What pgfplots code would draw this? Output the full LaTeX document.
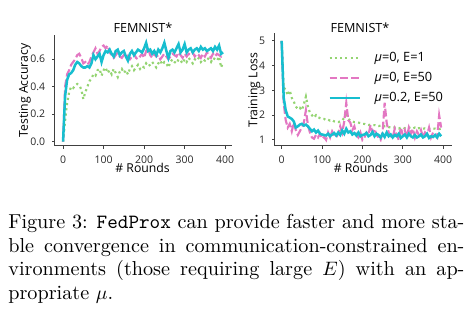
\documentclass[border=0pt]{standalone}
\usepackage{fontspec}
\usepackage{pgfplots}
\pgfplotsset{compat=1.18}
\newfontfamily\plotfont{Open Sans}
\definecolor{ccyan}{HTML}{17BECF}
\definecolor{cpink}{HTML}{E377C2}
\definecolor{cgreen}{HTML}{94D472}
\pgfplotsset{
  every axis title shift=0pt,
  mystyle/.style={
    scale only axis,
    axis x line*=bottom, axis y line*=left,
    axis line style={black!75, line width=0.5pt},
    tick style={black!75, line width=0.5pt},
    tick align=outside, major tick length=1.5pt,
    xtick={0,100,200,300,400},
    tick label style={font=\plotfont\fontsize{5.4}{6}\selectfont, black!85},
    /pgf/number format/assume math mode=true,
    label style={font=\plotfont\fontsize{6.3}{7}\selectfont},
    title style={font=\plotfont\fontsize{6.5}{7}\selectfont, anchor=center},
    xlabel={\# Rounds},
  },
  greenline/.style={cgreen, line width=1.1pt, dash pattern=on 1.1pt off 1.6pt},
  pinkline/.style={cpink, line width=1.1pt, dash pattern=on 4pt off 1.6pt},
  cyanline/.style={ccyan, line width=1.3pt},
}
\begin{document}
\begin{tikzpicture}
\useasboundingbox (0,0) rectangle (244.1pt,-168.4pt);
% ---------------- left: accuracy
\begin{axis}[mystyle,
  at={(28.3pt,-75.0pt)}, anchor=south west,
  width=91.2pt, height=57.0pt,
  xmin=-20, xmax=417, ymin=-0.029, ymax=0.777,
  ytick={0,0.2,0.4,0.6},
  yticklabel style={/pgf/number format/.cd, fixed, fixed zerofill, precision=1},
  title={FEMNIST*},
  title style={at={(axis description cs:0.497,1.066)}},
  ylabel={Testing Accuracy},
  ylabel style={at={(axis description cs:-0.170,0.499)}, anchor=center},
  xlabel style={at={(axis description cs:0.495,-0.201)}, anchor=center},
]
\addplot[greenline] coordinates {
(0,0.00)(5,0.15)(10,0.28)(15,0.36)(20,0.40)(25,0.39)(30,0.41)(35,0.42)(40,0.41)(45,0.38)
(50,0.31)(55,0.36)(60,0.40)(65,0.44)(70,0.46)(75,0.49)(80,0.48)(85,0.52)(90,0.53)(95,0.48)
(100,0.52)(105,0.54)(110,0.50)(115,0.52)(120,0.49)(125,0.53)(130,0.50)(135,0.47)(140,0.51)(145,0.53)
(150,0.50)(155,0.52)(160,0.49)(165,0.53)(170,0.55)(175,0.52)(180,0.54)(185,0.56)(190,0.53)(195,0.55)
(200,0.54)(205,0.57)(210,0.55)(215,0.56)(220,0.58)(225,0.56)(230,0.54)(235,0.57)(240,0.59)(245,0.56)
(250,0.58)(255,0.57)(260,0.54)(265,0.58)(270,0.60)(275,0.58)(280,0.57)(285,0.60)(290,0.59)(295,0.57)
(300,0.60)(305,0.58)(310,0.61)(315,0.59)(320,0.57)(325,0.60)(330,0.59)(335,0.61)(340,0.58)(345,0.60)
(350,0.59)(355,0.61)(360,0.60)(365,0.58)(370,0.61)(375,0.60)(380,0.59)(385,0.62)(390,0.54)(395,0.58)};
\addplot[pinkline] coordinates {
(0,0.00)(5,0.40)(10,0.49)(15,0.52)(20,0.56)(25,0.58)(30,0.60)(35,0.63)(40,0.64)(45,0.61)
(50,0.57)(55,0.58)(60,0.56)(65,0.58)(70,0.62)(75,0.65)(80,0.68)(85,0.64)(90,0.66)(95,0.69)
(100,0.70)(105,0.68)(110,0.70)(115,0.65)(120,0.63)(125,0.61)(130,0.63)(135,0.65)(140,0.62)(145,0.61)
(150,0.63)(155,0.64)(160,0.62)(165,0.60)(170,0.62)(175,0.64)(180,0.61)(185,0.60)(190,0.62)(195,0.64)
(200,0.61)(205,0.66)(210,0.68)(215,0.63)(220,0.61)(225,0.64)(230,0.62)(235,0.63)(240,0.60)(245,0.62)
(250,0.64)(255,0.62)(260,0.60)(265,0.62)(270,0.64)(275,0.63)(280,0.62)(285,0.65)(290,0.63)(295,0.61)
(300,0.64)(305,0.62)(310,0.64)(315,0.63)(320,0.65)(325,0.62)(330,0.64)(335,0.63)(340,0.61)(345,0.64)
(350,0.62)(355,0.65)(360,0.63)(365,0.61)(370,0.64)(375,0.62)(380,0.64)(385,0.63)(390,0.62)(395,0.64)};
\addplot[cyanline] coordinates {
(0,0.00)(5,0.33)(10,0.45)(15,0.49)(20,0.50)(25,0.52)(30,0.56)(35,0.58)(40,0.57)(45,0.55)
(50,0.54)(55,0.54)(60,0.55)(65,0.54)(70,0.57)(75,0.63)(80,0.60)(85,0.62)(90,0.64)(95,0.58)
(100,0.63)(105,0.66)(110,0.65)(115,0.67)(120,0.64)(125,0.62)(130,0.66)(135,0.67)(140,0.63)(145,0.65)
(150,0.66)(155,0.62)(160,0.59)(165,0.64)(170,0.66)(175,0.63)(180,0.65)(185,0.67)(190,0.66)(195,0.65)
(200,0.68)(205,0.72)(210,0.66)(215,0.67)(220,0.64)(225,0.66)(230,0.63)(235,0.67)(240,0.65)(245,0.68)
(250,0.72)(255,0.66)(260,0.61)(265,0.66)(270,0.67)(275,0.65)(280,0.68)(285,0.71)(290,0.65)(295,0.67)
(300,0.71)(305,0.65)(310,0.67)(315,0.68)(320,0.65)(325,0.67)(330,0.68)(335,0.66)(340,0.69)(345,0.67)
(350,0.68)(355,0.66)(360,0.67)(365,0.68)(370,0.66)(375,0.69)(380,0.67)(385,0.70)(390,0.64)(395,0.65)};
\end{axis}
% ---------------- right: loss
\begin{axis}[mystyle,
  at={(141.6pt,-75.0pt)}, anchor=south west,
  width=91.0pt, height=58.0pt,
  xmin=-16.6, xmax=421, ymin=0.77, ymax=5.32,
  ytick={1,2,3,4,5},
  title={FEMNIST*},
  title style={at={(axis description cs:0.481,1.047)}},
  ylabel={Training Loss},
  ylabel style={at={(axis description cs:-0.116,0.494)}, anchor=center},
  xlabel style={at={(axis description cs:0.487,-0.198)}, anchor=center},
  legend style={draw=none, fill=none, at={(axis description cs:0.30,0.868)}, anchor=north west,
    font=\plotfont\fontsize{6.6}{7.5}\selectfont, row sep=0pt, inner sep=0pt,
    /tikz/every odd column/.append style={column sep=5pt}},
  legend cell align=left,
  legend image code/.code={\draw[#1] (0pt,0pt) -- (15.5pt,0pt);},
]
\addplot[greenline] coordinates {
(0,5.0)(5,3.1)(10,3.05)(15,2.8)(20,3.0)(25,2.7)(30,2.55)(35,2.35)(40,2.25)(45,2.3)
(50,2.2)(55,2.45)(60,2.75)(65,2.35)(70,2.1)(75,2.0)(80,1.9)(85,2.0)(90,1.92)(95,1.88)
(100,1.85)(105,1.85)(110,1.8)(115,1.82)(120,1.78)(125,1.8)(130,1.75)(135,1.74)(140,1.72)(145,1.75)
(150,1.78)(155,1.9)(160,2.0)(165,1.85)(170,1.78)(175,1.75)(180,1.72)(185,1.72)(190,1.7)(195,1.68)
(200,1.65)(205,1.65)(210,1.62)(215,1.6)(220,1.62)(225,1.6)(230,1.6)(235,1.58)(240,1.56)(245,1.58)
(250,1.6)(255,1.55)(260,1.55)(265,1.52)(270,1.5)(275,1.5)(280,1.5)(285,1.48)(290,1.46)(295,1.5)
(300,1.5)(305,1.47)(310,1.45)(315,1.5)(320,1.48)(325,1.46)(330,1.5)(335,1.45)(340,1.48)(345,1.46)
(350,1.45)(355,1.47)(360,1.45)(365,1.46)(370,1.44)(375,1.45)(380,1.46)(385,1.45)(390,1.44)(395,1.45)};
\addlegendentry{\textit{μ}=0, E=1}
\addplot[pinkline] coordinates {
(0,5.0)(5,2.5)(10,1.8)(15,1.5)(20,1.65)(25,1.35)(30,1.7)(35,1.4)(40,1.2)(45,1.35)
(50,1.5)(55,1.7)(60,2.2)(65,1.6)(70,1.3)(75,1.1)(80,1.05)(85,1.2)(90,1.1)(95,1.25)
(100,1.05)(105,1.12)(110,1.0)(115,1.3)(120,1.1)(125,1.35)(130,1.2)(135,1.1)(140,1.25)(145,1.55)
(150,1.3)(155,1.75)(160,2.5)(165,1.8)(170,1.7)(175,1.4)(180,1.55)(185,1.2)(190,1.1)(195,1.3)
(200,1.0)(205,1.1)(210,1.3)(215,1.2)(220,1.6)(225,1.3)(230,1.45)(235,1.2)(240,1.1)(245,1.0)
(250,1.3)(255,2.5)(260,1.7)(265,1.3)(270,1.15)(275,1.1)(280,1.45)(285,1.2)(290,1.0)(295,1.5)
(300,1.2)(305,1.4)(310,1.1)(315,1.5)(320,1.25)(325,1.45)(330,1.1)(335,1.35)(340,1.2)(345,1.4)
(350,1.1)(355,1.3)(360,1.2)(365,1.5)(370,1.1)(375,1.3)(380,1.2)(385,1.1)(390,2.0)(395,1.5)};
\addlegendentry{\textit{μ}=0, E=50}
\addplot[cyanline] coordinates {
(0,5.0)(5,2.7)(10,2.2)(15,1.95)(20,1.9)(25,1.85)(30,1.75)(35,1.5)(40,1.55)(45,1.62)
(50,1.65)(55,1.58)(60,1.62)(65,1.55)(70,1.45)(75,1.35)(80,1.42)(85,1.3)(90,1.38)(95,1.25)
(100,1.22)(105,1.2)(110,1.18)(115,1.25)(120,1.15)(125,1.22)(130,1.28)(135,1.18)(140,1.3)(145,1.2)
(150,1.38)(155,1.25)(160,1.45)(165,1.3)(170,1.35)(175,1.22)(180,1.28)(185,1.18)(190,1.3)(195,1.15)
(200,1.2)(205,1.22)(210,1.28)(215,1.15)(220,1.2)(225,1.32)(230,1.15)(235,1.25)(240,1.2)(245,1.1)
(250,1.25)(255,1.12)(260,1.3)(265,1.15)(270,1.22)(275,1.1)(280,1.2)(285,1.15)(290,1.25)(295,1.08)
(300,1.15)(305,1.22)(310,1.1)(315,1.25)(320,1.15)(325,1.1)(330,1.2)(335,1.1)(340,1.15)(345,1.22)
(350,1.1)(355,1.15)(360,1.25)(365,1.08)(370,1.15)(375,1.12)(380,1.2)(385,1.1)(390,1.25)(395,1.15)};
\addlegendentry{\textit{μ}=0.2, E=50}
\end{axis}
% ---------------- caption
\node[anchor=base west, inner sep=0pt, text width=234.9pt, align=justify,
      font=\fontsize{10.4}{12.05}\selectfont] at (4.1pt,-117.9pt)
 {Figure 3: \texttt{FedProx} can provide faster and more sta-\linebreak
  ble convergence in communication-constrained en-\linebreak
  vironments (those requiring large $E$) with an ap-\linebreak
  propriate $\mu$.};
\end{tikzpicture}
\end{document}
